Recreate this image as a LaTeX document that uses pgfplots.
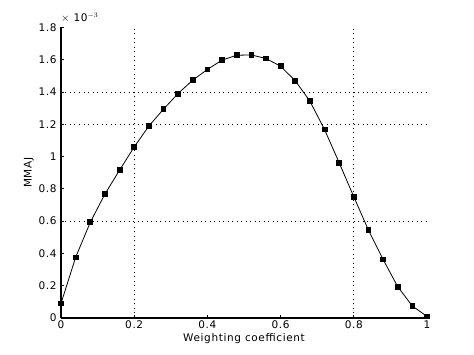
\documentclass[border=0pt]{standalone}
\usepackage{pgfplots}
\pgfplotsset{compat=1.18}
\usepackage{fontspec}
\setmainfont{DejaVu Sans}[LetterSpace=6]
\begin{document}
\begin{tikzpicture}
\useasboundingbox (-61pt,-37pt) rectangle (413pt,318pt);
\begin{axis}[
  at={(0,0)}, anchor=south west,
  scale only axis, width=366pt, height=290.5pt,
  xmin=0, xmax=1, ymin=0, ymax=1.8,
  axis x line*=bottom, axis y line*=left,
  axis line style={line width=1.1pt, -},
  xtick={0,0.2,0.4,0.6,0.8,1},
  xticklabels={0,0.2,0.4,0.6,0.8,1},
  ytick={0,0.2,0.4,0.6,0.8,1,1.2,1.4,1.6,1.8},
  yticklabels={0,0.2,0.4,0.6,0.8,1,1.2,1.4,1.6,1.8},
  /pgf/number format/assume math mode=true,
  tick align=inside, major tick length=3pt,
  tick style={line width=0.8pt, black},
  tick label style={font=\fontsize{10.5}{12}\selectfont},
  xticklabel style={yshift=1pt},
  yticklabel style={xshift=-1pt},
  xlabel={Weighting coefficient},
  ylabel={MMAJ},
  label style={font=\fontsize{10.5}{12}\selectfont},
  xlabel style={yshift=2pt},
  ylabel style={yshift=-2pt},
  clip=false,
]
\draw[line width=0.8pt, dash pattern=on 1pt off 3.5pt] (axis cs:0.2,0) -- (axis cs:0.2,1.8);
\draw[line width=0.8pt, dash pattern=on 1pt off 3.5pt] (axis cs:0.8,0) -- (axis cs:0.8,1.8);
\draw[line width=0.8pt, dash pattern=on 1pt off 3.5pt] (axis cs:0,0.6) -- (axis cs:1,0.6);
\draw[line width=0.8pt, dash pattern=on 1pt off 3.5pt] (axis cs:0,1.2) -- (axis cs:1,1.2);
\draw[line width=0.8pt, dash pattern=on 1pt off 3.5pt] (axis cs:0,1.4) -- (axis cs:1,1.4);
\addplot[black, line width=0.8pt, mark=square*, mark size=2.4pt, mark options={solid}] coordinates {
(0.00,0.090) (0.04,0.376) (0.08,0.593) (0.12,0.768) (0.16,0.916)
(0.20,1.060) (0.24,1.189) (0.28,1.294) (0.32,1.391) (0.36,1.474)
(0.40,1.540) (0.44,1.598) (0.48,1.628) (0.52,1.630) (0.56,1.608)
(0.60,1.560) (0.64,1.470) (0.68,1.344) (0.72,1.168) (0.76,0.962)
(0.80,0.751) (0.84,0.545) (0.88,0.363) (0.92,0.194) (0.96,0.074)
(1.00,0.010)
};
\node[anchor=south west, inner sep=0pt, font=\fontsize{10.5}{12}\selectfont] at (axis cs:0,1.83) {$\times$ 10$^{-3}$};
\end{axis}
\end{tikzpicture}
\end{document}
